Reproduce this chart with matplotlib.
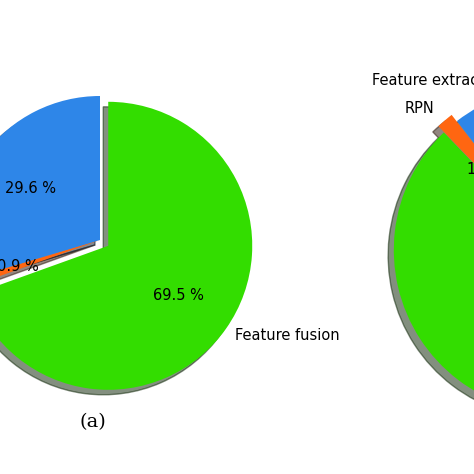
import matplotlib
matplotlib.use("Agg")
import matplotlib.pyplot as plt

labels_a = ["Feature fusion", "RPN", "Feature extractor"]
values_a = [69.5, 0.9, 29.6]
labels_b = ["Feature fusion", "RPN", "Feature extractor"]
values_b = [87.8, 1.7, 10.5]
colors = ["#33dd00", "#ff6611", "#2e86e8"]

fig = plt.figure(figsize=(4.74, 4.74), dpi=100)
W = 474.0

def add_ax(cx, cy, r):
    s = 2.4 * r
    ax = fig.add_axes([(cx - s / 2) / W, (W - cy - s / 2) / W, s / W, s / W])
    ax.set_xlim(-1.2, 1.2); ax.set_ylim(-1.2, 1.2); ax.set_aspect('equal'); ax.axis('off')
    return ax

shadow = {'ox': -0.025, 'oy': -0.025, 'shade': 0.85}
ax1 = add_ax(100, 240, 150)
ax1.pie(values_a, labels=labels_a, colors=colors, explode=[0.07, 0, 0], startangle=90,
        counterclock=False, shadow=shadow, autopct='%1.1f %%', labeldistance=1.08,
        textprops={'fontsize': 10.5})
ax2 = add_ax(557, 250, 170)
ax2.pie(values_b, labels=labels_b, colors=colors, explode=[0, 0.05, 0], startangle=90,
        counterclock=False, shadow=shadow, autopct='%1.1f %%', labeldistance=1.1,
        textprops={'fontsize': 10.5})
for ax in (ax1, ax2):
    for t in ax.texts:
        t.set_clip_on(False)
fig.text(93 / W, 1 - 422 / W, "(a)", family="DejaVu Serif", fontsize=14, ha='center', va='center')
fig.savefig("out.png", dpi=100)
